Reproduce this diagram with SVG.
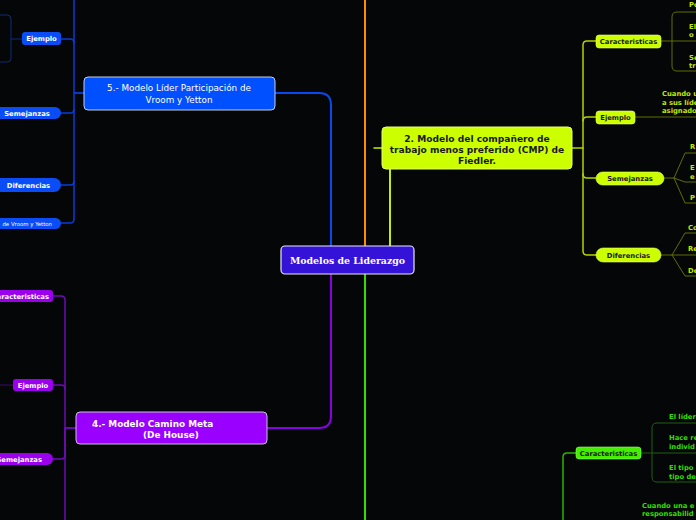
<svg xmlns="http://www.w3.org/2000/svg" width="696" height="520" viewBox="0 0 696 520">
<style>
.sans{font-family:"DejaVu Sans",Verdana,sans-serif}
.lbl{font-family:"DejaVu Sans",Verdana,sans-serif;font-weight:bold;font-size:6.8px}
.c{fill:none;stroke-linecap:round;stroke-linejoin:round}
.main{stroke-width:2}
.sub{stroke-width:1.5}
.thin{stroke-width:1}
.ytxt{fill:#c4e600}
.gtxt{fill:#33dd00}
</style>
<rect width="696" height="520" fill="#050608"/>

<g id="connectors">
  <path class="c main" stroke="#ff8c00" d="M365,0 V246"/>
  <path class="c main" stroke="#33dd00" d="M365,274 V520"/>
  <path class="c main" stroke="#0a48f0" d="M331,246 V105 Q331,93 319,93 H275"/>
  <path class="c main" stroke="#8a00e6" d="M331,274 V416 Q331,428 319,428 H267"/>
  <path class="c main" stroke="#c8ec00" d="M390,246 V169"/>
  <path class="c sub" stroke="#c8ec00" d="M374,148 H382"/>

  <g class="c sub" stroke="#b4d200">
    <path d="M572,148 H583 V45 Q583,41 587,41 H596"/>
    <path d="M583,121 Q583,117 587,117 H596"/>
    <path d="M583,174 Q583,178 587,178 H596"/>
    <path d="M583,148 V251 Q583,255 587,255 H596"/>
  </g>
  <g class="c thin" stroke="#5e6e00">
    <path d="M661,41 H696"/>
    <path d="M696,12 H677 Q672,12 672,17 V66 Q672,71 677,71 H696"/>
    <path d="M635,117 H696"/>
    <path d="M664,178 H674 L685,153 H696"/>
    <path d="M674,178 L685,182 H696"/>
    <path d="M674,178 L685,203 H696"/>
    <path d="M661,255 H696"/>
    <path d="M672,255 L685,233 H696"/>
    <path d="M672,255 L685,276 H696"/>
  </g>

  <g class="c sub" stroke="#0a3cd6">
    <path d="M84,93 H74 V0"/>
    <path d="M74,43 Q74,39 70,39 H61"/>
    <path d="M74,109 Q74,113 70,113 H61"/>
    <path d="M84,93 H74 V181 Q74,185 70,185 H61"/>
    <path d="M74,181 V219 Q74,223 70,223 H61"/>
  </g>
  <g class="c thin" stroke="#0c2c78">
    <path d="M0,15 H7 Q11,15 11,19 V58 Q11,62 7,62 H0"/>
    <path d="M11,39 H22"/>
  </g>

  <g class="c sub" stroke="#6e0cb4">
    <path d="M76,428 H65 V300 Q65,296 61,296 H53"/>
    <path d="M65,389 Q65,385 61,385 H53"/>
    <path d="M76,428 H65 V455 Q65,459 61,459 H53"/>
    <path d="M65,428 V520"/>
  </g>
  <path class="c thin" stroke="#3c0a66" d="M0,385 H13"/>

  <path class="c sub" stroke="#2cb400" d="M563,520 V457 Q563,453 567,453 H576"/>
  <g class="c thin" stroke="#1c5e10">
    <path d="M641,453 H696"/>
    <path d="M696,423 H657 Q652,423 652,428 V477 Q652,482 657,482 H696"/>
  </g>
</g>

<g id="center">
  <rect x="281" y="246" width="133" height="28" rx="4" fill="#3512d8" stroke="#e8e8f0" stroke-width="1.2"/>
  <text x="347.5" y="264" text-anchor="middle" font-family="'DejaVu Serif',Georgia,serif" font-weight="bold" font-size="9.4" fill="#ffffff">Modelos de Liderazgo</text>
</g>

<g id="node-modelo5">
  <rect x="84" y="77" width="191" height="33" rx="4" fill="#0050ff" stroke="#c8cce0" stroke-width="1"/>
  <text class="sans" font-size="8.8" fill="#ffffff" text-anchor="middle"><tspan x="179" y="91">5.- Modelo Líder Participación de</tspan><tspan x="179" y="102.5">Vroom y Yetton</tspan></text>
</g>

<g id="node-modelo2">
  <rect x="382" y="127" width="190" height="42" rx="4" fill="#ccff00" stroke="#e4ff70" stroke-width="1"/>
  <text class="sans" font-weight="bold" font-size="9.1" fill="#1a1a1a" text-anchor="middle"><tspan x="477" y="141.5">2. Modelo del compañero de</tspan><tspan x="477" y="152.5">trabajo menos preferido (CMP) de</tspan><tspan x="477" y="163.5">Fiedler.</tspan></text>
</g>

<g id="node-modelo4">
  <rect x="76" y="412" width="191" height="32" rx="4" fill="#9a00ff" stroke="#c8c0d8" stroke-width="1"/>
  <text class="sans" font-weight="bold" font-size="8.9" fill="#ffffff"><tspan x="92" y="426.5">4.- Modelo Camino Meta</tspan><tspan x="143" y="437.5">(De House)</tspan></text>
</g>

<g id="y-caracteristicas">
  <rect x="596" y="35" width="65" height="13" rx="3" fill="#ccff00" stroke="#e4ff70" stroke-width="0.6"/>
  <text class="lbl" x="628.5" y="44" text-anchor="middle" fill="#1a1a1a">Caracteristicas</text>
</g>
<g id="y-caract-items" class="lbl ytxt">
  <text x="689" y="7">Po</text>
  <text x="689" y="28.5">El</text>
  <text x="689" y="36.5">o</text>
  <text x="689" y="59.5">Se</text>
  <text x="689" y="67.5">tr</text>
</g>
<g id="y-ejemplo">
  <rect x="596" y="111" width="39" height="13" rx="3" fill="#ccff00" stroke="#e4ff70" stroke-width="0.6"/>
  <text class="lbl" x="615.5" y="120" text-anchor="middle" fill="#1a1a1a">Ejemplo</text>
</g>
<g id="y-ejemplo-item" class="lbl ytxt">
  <text x="662" y="96">Cuando u</text>
  <text x="662" y="104.5">a sus líde</text>
  <text x="662" y="113">asignado</text>
</g>
<g id="y-semejanzas">
  <rect x="596" y="172" width="68" height="13" rx="6.5" fill="#ccff00" stroke="#e4ff70" stroke-width="0.6"/>
  <text class="lbl" x="630" y="181" text-anchor="middle" fill="#1a1a1a">Semejanzas</text>
</g>
<g id="y-semejanzas-items" class="lbl ytxt">
  <text x="690" y="148.5">R</text>
  <text x="690" y="169.5">E</text>
  <text x="690" y="178.5">e</text>
  <text x="690" y="199.5">P</text>
</g>
<g id="y-diferencias">
  <rect x="596" y="248" width="65" height="14" rx="7" fill="#ccff00" stroke="#e4ff70" stroke-width="0.6"/>
  <text class="lbl" x="628.5" y="257.5" text-anchor="middle" fill="#1a1a1a">Diferencias</text>
</g>
<g id="y-diferencias-items" class="lbl ytxt">
  <text x="688" y="229.5">Co</text>
  <text x="688" y="250.5">Re</text>
  <text x="688" y="272.5">De</text>
</g>

<g id="b-ejemplo">
  <rect x="22" y="32" width="39" height="13" rx="3" fill="#0a4cf5"/>
  <text class="lbl" x="41.5" y="41" text-anchor="middle" fill="#ffffff">Ejemplo</text>
</g>
<g id="b-semejanzas">
  <rect x="-10" y="107" width="71" height="12" rx="6" fill="#0a4cf5"/>
  <text class="lbl" x="27" y="115.5" text-anchor="middle" fill="#ffffff">Semejanzas</text>
</g>
<g id="b-diferencias">
  <rect x="-10" y="178" width="71" height="14" rx="7" fill="#0a4cf5"/>
  <text class="lbl" x="28.5" y="187.5" text-anchor="middle" fill="#ffffff">Diferencias</text>
</g>
<g id="b-vroom">
  <rect x="-10" y="218" width="71" height="11" rx="5.5" fill="#0a4cf5"/>
  <text class="sans" x="52" y="225.6" text-anchor="end" font-size="5.4" fill="#ffffff">de Vroom y Yetton</text>
</g>

<g id="p-caracteristicas">
  <rect x="-10" y="290" width="63" height="12" rx="3" fill="#9a00ee"/>
  <text class="lbl" x="49" y="298.5" text-anchor="end" fill="#ffffff">Caracteristicas</text>
</g>
<g id="p-ejemplo">
  <rect x="13" y="379" width="40" height="12" rx="3" fill="#9a00ee"/>
  <text class="lbl" x="33" y="387.5" text-anchor="middle" fill="#ffffff">Ejemplo</text>
</g>
<g id="p-semejanzas">
  <rect x="-10" y="453" width="63" height="12" rx="6" fill="#9a00ee"/>
  <text class="lbl" x="42" y="461.5" text-anchor="end" fill="#ffffff">Semejanzas</text>
</g>

<g id="g-caracteristicas">
  <rect x="576" y="447" width="65" height="12" rx="3" fill="#44ee00" stroke="#90ff60" stroke-width="0.6"/>
  <text class="lbl" x="608.5" y="455.5" text-anchor="middle" fill="#1a1a1a">Caracteristicas</text>
</g>
<g id="g-caract-items" class="lbl gtxt">
  <text x="669" y="418.5">El líder</text>
  <text x="669" y="439.5">Hace re</text>
  <text x="669" y="449">individ</text>
  <text x="669" y="469.5">El tipo</text>
  <text x="669" y="479">tipo de</text>
</g>
<g id="g-ejemplo-item" class="lbl gtxt">
  <text x="642" y="507.5">Cuando una e</text>
  <text x="642" y="515.5">responsabilid</text>
</g>
</svg>
